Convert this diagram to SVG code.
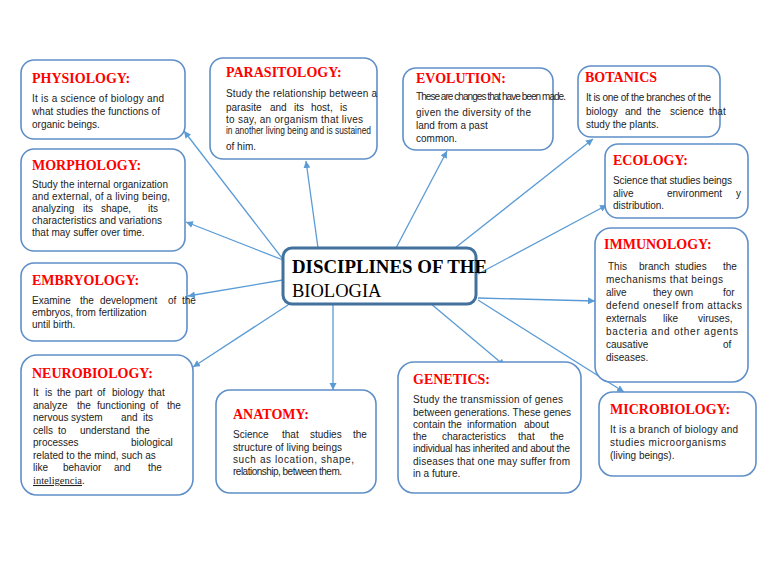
<svg xmlns="http://www.w3.org/2000/svg" width="768" height="566" viewBox="0 0 768 566">
<defs>
<style>
.box{fill:#fff;stroke:#5F8FC9;stroke-width:1.6}
.center{fill:#fff;stroke:#41719C;stroke-width:3}
.t{font-family:"Liberation Serif","Times New Roman",serif;font-weight:bold;font-size:14px;fill:#FF0000}
.b{font-family:"Liberation Sans",Arial,sans-serif;font-size:10px;fill:#222}
.c{stroke:#5B9BD5;stroke-width:1.3;fill:none;marker-end:url(#ah)}
</style>
<marker id="ah" markerWidth="9" markerHeight="9" refX="7" refY="3.5" orient="auto" markerUnits="userSpaceOnUse">
<path d="M0,0 L7,3.5 L0,7 z" fill="#5B9BD5"/>
</marker>
</defs>
<rect width="768" height="566" fill="#fff"/>

<g id="connectors">
<line class="c" x1="285" y1="262" x2="184" y2="131"/>
<line class="c" x1="318" y1="248" x2="306" y2="161"/>
<line class="c" x1="396" y1="248" x2="447" y2="151"/>
<line class="c" x1="455" y1="248" x2="593" y2="139"/>
<line class="c" x1="478" y1="274" x2="607" y2="205"/>
<line class="c" x1="478" y1="298" x2="595" y2="301"/>
<line class="c" x1="478" y1="300" x2="624" y2="392"/>
<line class="c" x1="430" y1="303" x2="505" y2="366"/>
<line class="c" x1="333" y1="305" x2="333" y2="390"/>
<line class="c" x1="288" y1="305" x2="193" y2="367"/>
<line class="c" x1="283" y1="280" x2="188" y2="296"/>
<line class="c" x1="283" y1="260" x2="186" y2="222"/>
</g>

<g id="center">
<rect class="center" x="283" y="248" width="193" height="56" rx="9"/>
<text x="292" y="273" font-family="Liberation Serif,Times New Roman,serif" font-weight="bold" font-size="18.5" fill="#000" textLength="195" lengthAdjust="spacingAndGlyphs">DISCIPLINES OF THE</text>
<text x="292" y="297" font-family="Liberation Serif,Times New Roman,serif" font-size="18.5" fill="#000">BIOLOGIA</text>
</g>

<g id="physiology">
<rect class="box" x="21" y="60" width="164" height="79" rx="13"/>
<text class="t" x="32" y="83">PHYSIOLOGY:</text>
<text class="b" x="32" y="102" textLength="132">It is a science of biology and</text>
<text class="b" x="32" y="115" textLength="128">what studies the functions of</text>
<text class="b" x="32" y="128">organic beings.</text>
</g>

<g id="parasitology">
<rect class="box" x="210" y="58" width="167" height="101" rx="13"/>
<text class="t" x="226" y="77">PARASITOLOGY:</text>
<text class="b" x="226" y="97" textLength="151">Study the relationship between a</text>
<text class="b" x="226" y="111" font-size="11">parasite<tspan x="270">and</tspan><tspan x="294">its</tspan><tspan x="311">host,</tspan><tspan x="340">is</tspan></text>
<text class="b" x="226" y="123" font-size="11" textLength="137">to say, an organism that lives</text>
<text class="b" x="226" y="134" font-size="7.5" textLength="145" lengthAdjust="spacingAndGlyphs">in another living being and is sustained</text>
<text class="b" x="226" y="150" font-size="11">of him.</text>
</g>

<g id="evolution">
<rect class="box" x="403" y="68" width="150" height="82" rx="13"/>
<text class="t" x="416" y="83">EVOLUTION:</text>
<text class="b" x="416" y="100" font-size="6.5" textLength="150">These are changes that have been made.</text>
<text class="b" x="416" y="116" font-size="10.5" textLength="115">given the diversity of the</text>
<text class="b" x="416" y="129" font-size="10.5">land from a past</text>
<text class="b" x="416" y="142" font-size="10.5">common.</text>
</g>

<g id="botanics">
<rect class="box" x="578" y="66" width="142" height="71" rx="13"/>
<text class="t" x="585" y="82">BOTANICS</text>
<text class="b" x="586" y="101" font-size="9" textLength="125">It is one of the branches of the</text>
<text class="b" x="586" y="115" font-size="9.5">biology<tspan x="625">and</tspan><tspan x="647">the</tspan><tspan x="670">science</tspan><tspan x="709">that</tspan></text>
<text class="b" x="586" y="128" font-size="9.5">study the plants.</text>
</g>

<g id="morphology">
<rect class="box" x="21" y="149" width="164" height="102" rx="13"/>
<text class="t" x="32" y="170">MORPHOLOGY:</text>
<text class="b" x="32" y="188" font-size="9.5" textLength="136">Study the internal organization</text>
<text class="b" x="32" y="200" font-size="8.5" textLength="138">and external, of a living being,</text>
<text class="b" x="32" y="212" font-size="9.5">analyzing<tspan x="83">its</tspan><tspan x="101">shape,</tspan><tspan x="148">its</tspan></text>
<text class="b" x="32" y="224" font-size="9.5" textLength="130">characteristics and variations</text>
<text class="b" x="32" y="236" font-size="9.5">that may suffer over time.</text>
</g>

<g id="ecology">
<rect class="box" x="605" y="144" width="143" height="74" rx="13"/>
<text class="t" x="613" y="165">ECOLOGY:</text>
<text class="b" x="613" y="184" font-size="9.5" textLength="119">Science that studies beings</text>
<text class="b" x="613" y="197" font-size="9.5">alive<tspan x="667">environment</tspan><tspan x="736">y</tspan></text>
<text class="b" x="613" y="209" font-size="9.5">distribution.</text>
</g>

<g id="embryology">
<rect class="box" x="21" y="263" width="166" height="78" rx="13"/>
<text class="t" x="32" y="285">EMBRYOLOGY:</text>
<text class="b" x="32" y="304">Examine<tspan x="80">the</tspan><tspan x="100">development</tspan><tspan x="168">of</tspan><tspan x="182">the</tspan></text>
<text class="b" x="32" y="316" font-size="9.5">embryos, from fertilization</text>
<text class="b" x="32" y="328" font-size="9.5">until birth.</text>
</g>

<g id="immunology">
<rect class="box" x="595" y="228" width="153" height="154" rx="16"/>
<text class="t" x="604" y="249">IMMUNOLOGY:</text>
<text class="b" x="608" y="270" font-size="10.5">This<tspan x="639">branch</tspan><tspan x="675">studies</tspan><tspan x="723">the</tspan></text>
<text class="b" x="606" y="283" font-size="10.5" textLength="117">mechanisms that beings</text>
<text class="b" x="606" y="296" font-size="10.5">alive<tspan x="653">they own</tspan><tspan x="723">for</tspan></text>
<text class="b" x="606" y="309" font-size="10.5" textLength="136">defend oneself from attacks</text>
<text class="b" x="606" y="322" font-size="10.5">externals<tspan x="663">like</tspan><tspan x="698">viruses,</tspan></text>
<text class="b" x="606" y="335" font-size="10.5" textLength="132">bacteria and other agents</text>
<text class="b" x="606" y="348" font-size="10.5">causative<tspan x="723">of</tspan></text>
<text class="b" x="606" y="361" font-size="10.5">diseases.</text>
</g>

<g id="neurobiology">
<rect class="box" x="21" y="355" width="172" height="140" rx="16"/>
<text class="t" x="32" y="378">NEUROBIOLOGY:</text>
<text class="b" x="33" y="396" font-size="10.5">It<tspan x="45">is</tspan><tspan x="57">the</tspan><tspan x="75">part</tspan><tspan x="97">of</tspan><tspan x="112">biology</tspan><tspan x="148">that</tspan></text>
<text class="b" x="33" y="409" font-size="10.5">analyze<tspan x="77">the</tspan><tspan x="97">functioning</tspan><tspan x="150">of</tspan><tspan x="167">the</tspan></text>
<text class="b" x="33" y="421" font-size="10.5">nervous<tspan x="71">system</tspan><tspan x="121">and</tspan><tspan x="143">its</tspan></text>
<text class="b" x="33" y="434" font-size="10.5">cells<tspan x="58">to</tspan><tspan x="80">understand</tspan><tspan x="136">the</tspan></text>
<text class="b" x="33" y="446" font-size="10.5">processes<tspan x="131">biological</tspan></text>
<text class="b" x="33" y="459" font-size="10.5">related to the mind, such as</text>
<text class="b" x="33" y="471" font-size="10.5">like<tspan x="63">behavior</tspan><tspan x="114">and</tspan><tspan x="148">the</tspan></text>
<text x="33" y="484" font-family="Liberation Serif,Times New Roman,serif" font-size="10.5" fill="#222"><tspan text-decoration="underline">inteligencia</tspan>.</text>
</g>

<g id="anatomy">
<rect class="box" x="216" y="390" width="160" height="103" rx="14"/>
<text class="t" x="233" y="419">ANATOMY:</text>
<text class="b" x="233" y="438">Science<tspan x="282">that</tspan><tspan x="310">studies</tspan><tspan x="353">the</tspan></text>
<text class="b" x="233" y="451" font-size="9.5" textLength="109">structure of living beings</text>
<text class="b" x="233" y="463" font-size="9.5" textLength="121">such as location, shape,</text>
<text class="b" x="233" y="475" font-size="8" textLength="109">relationship, between them.</text>
</g>

<g id="genetics">
<rect class="box" x="398" y="362" width="183" height="131" rx="16"/>
<text class="t" x="413" y="384">GENETICS:</text>
<text class="b" x="413" y="403" font-size="9.5" textLength="150">Study the transmission of genes</text>
<text class="b" x="413" y="416" font-size="9.5" textLength="158">between generations. These genes</text>
<text class="b" x="413" y="428" font-size="9.5">contain<tspan x="448">the</tspan><tspan x="467">information</tspan><tspan x="524">about</tspan></text>
<text class="b" x="413" y="440" font-size="9.5">the<tspan x="442">characteristics</tspan><tspan x="518">that</tspan><tspan x="550">the</tspan></text>
<text class="b" x="413" y="452" font-size="8" textLength="157">individual has inherited and about the</text>
<text class="b" x="413" y="465" font-size="9.5" textLength="157">diseases that one may suffer from</text>
<text class="b" x="413" y="477" font-size="9.5">in a future.</text>
</g>

<g id="microbiology">
<rect class="box" x="599" y="392" width="157" height="84" rx="14"/>
<text class="t" x="610" y="414">MICROBIOLOGY:</text>
<text class="b" x="610" y="433" textLength="128">It is a branch of biology and</text>
<text class="b" x="610" y="446" textLength="116">studies microorganisms</text>
<text class="b" x="610" y="459">(living beings).</text>
</g>
</svg>
